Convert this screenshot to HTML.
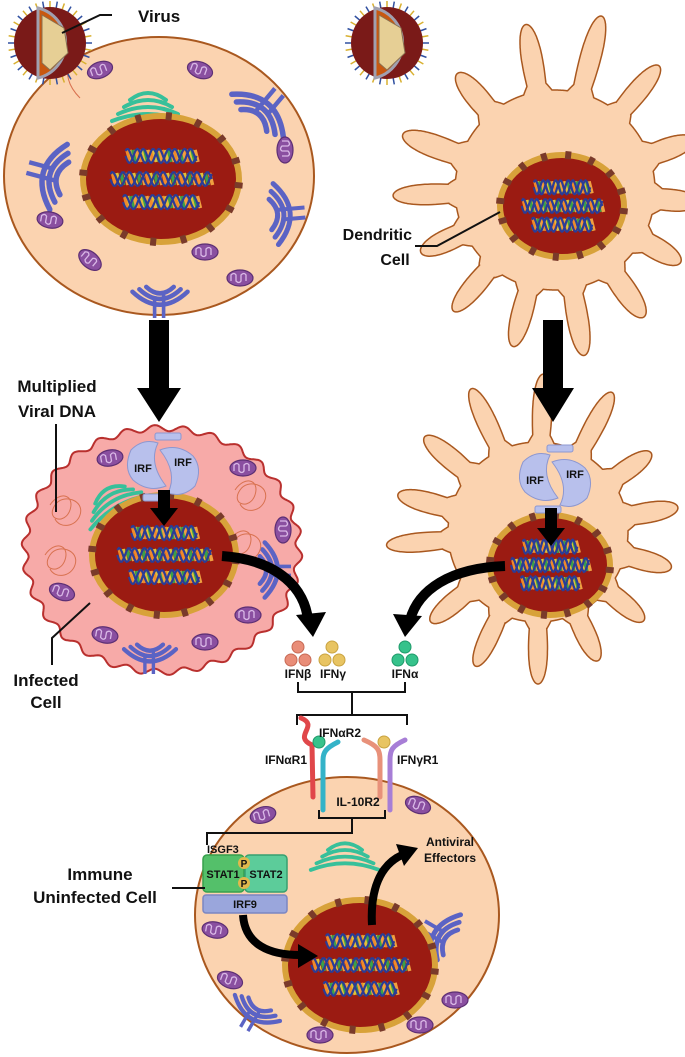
<!DOCTYPE html>
<html><head><meta charset="utf-8"><style>
html,body{margin:0;padding:0;background:#fff;}
svg{display:block;}
text{font-family:"Liberation Sans",sans-serif;font-weight:bold;fill:#111;}
</style></head><body>
<svg id="s" width="685" height="1057" viewBox="0 0 685 1057" xmlns="http://www.w3.org/2000/svg">
<ellipse cx="159" cy="176" rx="155" ry="139" fill="#fbd3b0" stroke="#a9581f" stroke-width="2"/>
<path id="inf" fill="#f7aaa8" stroke="#b9302e" stroke-width="2"/>
<g id="dyn"></g>
<g id="vir"></g>
<path d="M149,320 H169 V388 H181 L159,422 L137,388 H149 Z" fill="#000"/>
<path d="M543,320 H563 V388 H574 L553,422 L532,388 H543 Z" fill="#000"/>
<path d="M222,556 C280,560 305,590 308,620" fill="none" stroke="#000" stroke-width="10"/>
<path d="M296,615 L313,637 L326,612 Z" fill="#000"/>
<path d="M505,566 C450,568 418,590 410,620" fill="none" stroke="#000" stroke-width="10"/>
<path d="M393,614 L405,637 L422,616 Z" fill="#000"/>
<g stroke-width="1">
<circle cx="298" cy="647" r="6" fill="#e98d78" stroke="#c76a55"/><circle cx="291" cy="660" r="6" fill="#e98d78" stroke="#c76a55"/><circle cx="305" cy="660" r="6" fill="#e98d78" stroke="#c76a55"/>
<circle cx="332" cy="647" r="6" fill="#e8c462" stroke="#c9a340"/><circle cx="325" cy="660" r="6" fill="#e8c462" stroke="#c9a340"/><circle cx="339" cy="660" r="6" fill="#e8c462" stroke="#c9a340"/>
<circle cx="405" cy="647" r="6" fill="#36c28b" stroke="#1f9a6a"/><circle cx="398" cy="660" r="6" fill="#36c28b" stroke="#1f9a6a"/><circle cx="412" cy="660" r="6" fill="#36c28b" stroke="#1f9a6a"/>
</g>
<text x="298" y="678" font-size="12" text-anchor="middle">IFNβ</text>
<text x="333" y="678" font-size="12" text-anchor="middle">IFNγ</text>
<text x="405" y="678" font-size="12" text-anchor="middle">IFNα</text>
<path d="M298,682 V692 H405 V682 M352,692 V715 M297,725 V715 H407 V725" fill="none" stroke="#111" stroke-width="2"/>
<ellipse cx="347" cy="915" rx="152" ry="138" fill="#fbd3b0" stroke="#a9581f" stroke-width="2"/>
<path d="M301,718 C320,726 292,736 312,745 L313,797" fill="none" stroke="#e0474a" stroke-width="5" stroke-linecap="round"/>
<path d="M338,742 C326,748 323,752 323,760 L323,810" fill="none" stroke="#34b3c8" stroke-width="5" stroke-linecap="round"/>
<path d="M364,740 C378,746 380,750 380,760 L380,797" fill="none" stroke="#e8917a" stroke-width="5" stroke-linecap="round"/>
<path d="M405,740 C392,746 390,750 390,760 L390,810" fill="none" stroke="#a77ed6" stroke-width="5" stroke-linecap="round"/>
<circle cx="319" cy="742" r="6" fill="#36c28b" stroke="#1f9a6a"/>
<circle cx="384" cy="742" r="6" fill="#e8c462" stroke="#c9a340"/>
<text x="340" y="737" font-size="12" text-anchor="middle">IFNαR2</text>
<text x="307" y="764" font-size="12" text-anchor="end">IFNαR1</text>
<text x="397" y="764" font-size="12">IFNγR1</text>
<text x="358" y="806" font-size="12" text-anchor="middle">IL-10R2</text>
<path d="M319,810 V818 H385 V810 M352,818 V833 H207 V845" fill="none" stroke="#111" stroke-width="2"/>
<text x="207" y="853" font-size="11">ISGF3</text>
<rect x="203" y="855" width="41" height="37" rx="4" fill="#54c06a" stroke="#36a04c" stroke-width="1.5"/>
<rect x="245" y="855" width="42" height="37" rx="4" fill="#5ccc9a" stroke="#36a070" stroke-width="1.5"/>
<rect x="203" y="895" width="84" height="18" rx="3" fill="#9aa6dc" stroke="#7b86c2" stroke-width="1.5"/>
<circle cx="244" cy="863" r="6" fill="#e1b84c"/><circle cx="244" cy="883" r="6" fill="#e1b84c"/>
<text x="244" y="867" font-size="10" text-anchor="middle">P</text>
<text x="244" y="887" font-size="10" text-anchor="middle">P</text>
<text x="223" y="878" font-size="11" text-anchor="middle">STAT1</text>
<text x="266" y="878" font-size="11" text-anchor="middle">STAT2</text>
<text x="245" y="908" font-size="11" text-anchor="middle">IRF9</text>
<g id="dyn2"></g>
<text x="138" y="22" font-size="17">Virus</text>
<path d="M62,33 L100,15 H112" fill="none" stroke="#111" stroke-width="2"/>
<text x="412" y="240" font-size="16" text-anchor="end">Dendritic</text>
<text x="395" y="265" font-size="16" text-anchor="middle">Cell</text>
<path d="M415,246 H437 L500,212" fill="none" stroke="#111" stroke-width="2"/>
<text x="57" y="392" font-size="17" text-anchor="middle">Multiplied</text>
<text x="57" y="417" font-size="17" text-anchor="middle">Viral DNA</text>
<path d="M56,424 V512" stroke="#111" stroke-width="2"/>
<text x="46" y="686" font-size="17" text-anchor="middle">Infected</text>
<text x="46" y="708" font-size="17" text-anchor="middle">Cell</text>
<path d="M90,603 L52,638 V665" fill="none" stroke="#111" stroke-width="2"/>
<text x="100" y="880" font-size="17" text-anchor="middle">Immune</text>
<text x="95" y="903" font-size="17" text-anchor="middle">Uninfected Cell</text>
<path d="M172,888 H205" stroke="#111" stroke-width="2"/>
<text x="450" y="846" font-size="12" text-anchor="middle">Antiviral</text>
<text x="450" y="862" font-size="12" text-anchor="middle">Effectors</text>
</svg>
<script>
(function(){
var NS="http://www.w3.org/2000/svg";
function el(p,t,a){var e=document.createElementNS(NS,t);for(var k in a)e.setAttribute(k,a[k]);p.appendChild(e);return e;}
var dyn=document.getElementById("dyn"),dyn2=document.getElementById("dyn2"),vir=document.getElementById("vir");
var d="";for(var i=0;i<=720;i++){var t=i/720*2*Math.PI;var rr=1+0.025*Math.sin(t*30);var x=162+137*rr*Math.cos(t),y=550+122*rr*Math.sin(t);d+=(i?"L":"M")+x.toFixed(1)+","+y.toFixed(1);}
document.getElementById("inf").setAttribute("d",d+"Z");
function dend(g,cx,cy,r0,arms){var d="";for(var i=0;i<=2880;i++){var t=i/2880*2*Math.PI;var r=r0;arms.forEach(function(a){var dt=Math.atan2(Math.sin(t-a[0]),Math.cos(t-a[0]));var z=Math.abs(dt)/a[2];if(z<1.6){var base=z<1?Math.sqrt(1-z*z):0;var fil=Math.max(0,1-(z-0.6));r+=a[1]*base+12*Math.max(0,Math.min(1,1.6-z))*(z>=1?1:0)+(z<1?12:0)*0;}});var x=cx+r*Math.cos(t),y=cy+r*Math.sin(t);d+=(i?"L":"M")+x.toFixed(1)+","+y.toFixed(1);}el(g,"path",{d:d+"Z",fill:"#fbd3b0",stroke:"#a9581f","stroke-width":1.5,"stroke-linejoin":"round"});}
function deg(x){return x*Math.PI/180;}
var arms1=[[-160,62,.10],[-130,52,.10],[-100,68,.09],[-75,80,.085],[-50,62,.09],[-20,48,.10],[5,45,.10],[30,45,.10],[55,55,.10],[80,68,.09],[105,62,.09],[130,58,.09],[155,48,.10],[178,62,.09]].map(function(a){return [deg(a[0]),a[1],a[2]];});
dend(dyn,555,190,100,arms1);
var arms2=[[-165,55,.10],[-140,58,.10],[-115,68,.09],[-88,68,.09],[-62,68,.09],[-35,48,.10],[-10,52,.10],[15,48,.10],[40,48,.10],[65,52,.10],[90,62,.09],[115,58,.09],[140,50,.10],[175,62,.09]].map(function(a){return [deg(a[0]),a[1],a[2]];});
dend(dyn,538,532,90,arms2);
function mito(g,x,y,rot){var gg=el(g,"g",{transform:"translate("+x+","+y+") rotate("+rot+")"});el(gg,"ellipse",{cx:0,cy:0,rx:13,ry:8,fill:"#8a4fa0",stroke:"#5d2f74","stroke-width":1.2});el(gg,"path",{d:"M-9,3 V-3 Q-6,-6 -4,-3 V3 Q-1,6 1,3 V-3 Q4,-6 6,-3 V3",fill:"none",stroke:"#d9b8e6","stroke-width":1.3});}
function golgi(g,x,y,rot,s){var gg=el(g,"g",{transform:"translate("+x+","+y+") rotate("+rot+") scale("+(s||1)+")"});for(var i=0;i<4;i++){var w=18+i*6;el(gg,"path",{d:"M"+(-w)+","+(i*7)+" Q0,"+(i*7-14)+" "+w+","+(i*7),fill:"none",stroke:"#37c09a","stroke-width":4,"stroke-linecap":"round"});}}
function er(g,x,y,rot,s){var gg=el(g,"g",{transform:"translate("+x+","+y+") rotate("+rot+") scale("+(s||1)+")"});for(var i=0;i<3;i++){var r=18+i*9;el(gg,"path",{d:"M"+(-r*0.85)+","+(-r*0.3)+" Q0,"+(-r*1.1)+" "+(r*0.85)+","+(-r*0.3),fill:"none",stroke:"#5b63c4","stroke-width":5,"stroke-linecap":"round"});}el(gg,"path",{d:"M-4,-40 V-14 M6,-40 V-16",stroke:"#5b63c4","stroke-width":4});}
function nucleus(g,cx,cy,rx,ry){el(g,"ellipse",{cx:cx,cy:cy,rx:rx,ry:ry,fill:"#9b1b12",stroke:"#d8a23a","stroke-width":6});for(var i=0;i<16;i++){var t=i/16*2*Math.PI+.1;var x=cx+rx*Math.cos(t),y=cy+ry*Math.sin(t);el(g,"rect",{x:x-3,y:y-4,width:6,height:8,fill:"#7a3a2a",transform:"rotate("+(t*180/Math.PI+90)+" "+x+" "+y+")"});}
var rows=[[-22,.7],[0,1],[22,.75]];rows.forEach(function(r){var w=rx*1.3*r[1],y0=cy+r[0]*ry/60,x0=cx-w/2;var a="",b="";var n=r[1]>.9?6:4.5;for(var k=0;k<=60;k++){var x=x0+w*k/60,ph=k/60*Math.PI*2*n;a+=(k?"L":"M")+x.toFixed(1)+","+(y0+7*Math.sin(ph)).toFixed(1);b+=(k?"L":"M")+x.toFixed(1)+","+(y0-7*Math.sin(ph+0.8)).toFixed(1);}
var cols=["#f08a2a","#e0c03a","#3aa04a","#f0a040"];for(var k=0;k<24;k++){var x=x0+w*(k+.5)/24;el(g,"line",{x1:x,y1:y0-6,x2:x+3,y2:y0+6,stroke:cols[k%4],"stroke-width":3.5});}
el(g,"path",{d:a,fill:"none",stroke:"#2b3c96","stroke-width":2.2});el(g,"path",{d:b,fill:"none",stroke:"#2b3c96","stroke-width":2.2});});}
function irf(g,x,y){el(g,"path",{d:"M"+(x-32)+","+(y-18)+" Q"+(x-20)+","+(y-30)+" "+(x-5)+","+(y-25)+" Q"+(x-15)+","+(y-5)+" "+(x+3)+","+(y+18)+" Q"+(x-15)+","+(y+25)+" "+(x-30)+","+(y+12)+" Q"+(x-40)+","+y+" "+(x-32)+","+(y-18)+"Z",fill:"#b8c0ec",stroke:"#8d97d0"});
el(g,"path",{d:"M"+(x+32)+","+(y+18)+" Q"+(x+20)+","+(y+30)+" "+(x+5)+","+(y+25)+" Q"+(x+15)+","+(y+5)+" "+(x-3)+","+(y-18)+" Q"+(x+15)+","+(y-25)+" "+(x+30)+","+(y-12)+" Q"+(x+40)+","+y+" "+(x+32)+","+(y+18)+"Z",fill:"#b8c0ec",stroke:"#8d97d0"});
el(g,"rect",{x:x-8,y:y-35,width:26,height:7,rx:2,fill:"#b8c0ec",stroke:"#8d97d0"});el(g,"rect",{x:x-20,y:y+26,width:26,height:7,rx:2,fill:"#b8c0ec",stroke:"#8d97d0"});
var t1=el(g,"text",{x:x-20,y:y+4,"font-size":11,"text-anchor":"middle"});t1.textContent="IRF";var t2=el(g,"text",{x:x+20,y:y-2,"font-size":11,"text-anchor":"middle"});t2.textContent="IRF";}
function squig(g,x,y){el(g,"path",{d:"M"+x+","+y+" c10,-15 25,-10 20,5 c-5,15 -25,10 -15,-5 c8,-12 30,-5 25,10 c-4,12 -20,14 -25,4",fill:"none",stroke:"#d8714f","stroke-width":1});}
golgi(dyn,148,100,0,1);er(dyn,70,180,-75,1.1);er(dyn,250,125,40,1.1);er(dyn,265,215,85,1);er(dyn,160,282,180,.9);
mito(dyn,100,70,-20);mito(dyn,200,70,20);mito(dyn,285,150,90);mito(dyn,50,220,10);mito(dyn,90,260,40);mito(dyn,240,278,0);mito(dyn,205,252,0);
el(dyn,"path",{d:"M70,60 Q62,80 80,98",fill:"none",stroke:"#d8714f","stroke-width":1});
nucleus(dyn,161,179,78,63);
nucleus(dyn,562,206,62,51);
golgi(dyn,110,495,-30,0.95);er(dyn,255,570,90,.9);er(dyn,150,640,180,.85);
mito(dyn,110,458,-10);mito(dyn,243,468,0);mito(dyn,283,530,90);mito(dyn,62,592,20);mito(dyn,105,635,10);mito(dyn,248,615,0);mito(dyn,205,642,0);
squig(dyn,50,505);squig(dyn,45,555);squig(dyn,235,490);squig(dyn,230,540);
nucleus(dyn,164,555,72,60);irf(dyn,163,468);
el(dyn,"path",{d:"M158,490 H170 V508 H178 L164,526 L150,508 H158Z",fill:"#000"});
nucleus(dyn,550,565,60,50);irf(dyn,555,480);
el(dyn,"path",{d:"M545,508 H557 V528 H565 L551,546 L537,528 H545Z",fill:"#000"});
golgi(dyn2,345,850,0,.95);er(dyn2,455,945,-60,.95);er(dyn2,262,1000,210,.85);
mito(dyn2,263,815,-15);mito(dyn2,418,805,20);mito(dyn2,215,930,10);mito(dyn2,230,980,20);mito(dyn2,320,1035,0);mito(dyn2,420,1025,0);mito(dyn2,455,1000,0);
nucleus(dyn2,360,965,75,65);
el(dyn2,"path",{d:"M243,915 C245,945 270,955 300,955",fill:"none",stroke:"#000","stroke-width":8});
el(dyn2,"path",{d:"M298,944 L318,956 L298,968Z",fill:"#000"});
el(dyn2,"path",{d:"M372,925 C370,890 380,865 402,855",fill:"none",stroke:"#000","stroke-width":8});
el(dyn2,"path",{d:"M396,844 L418,848 L404,866Z",fill:"#000"});
function virus(g,cx,cy){for(var i=0;i<36;i++){var t=i/36*2*Math.PI;el(g,"line",{x1:cx+34*Math.cos(t),y1:cy+34*Math.sin(t),x2:cx+42*Math.cos(t),y2:cy+42*Math.sin(t),stroke:i%2?"#d8b030":"#3050a0","stroke-width":1.5});}el(g,"circle",{cx:cx,cy:cy,r:36,fill:"#7a1a18"});el(g,"path",{d:"M"+(cx-12)+","+(cy-35)+" A36,36 0 0 1 "+(cx-12)+","+(cy+35)+"Z",fill:"#c85810",stroke:"#a0a0b0","stroke-width":3});el(g,"path",{d:"M"+(cx-8)+","+(cy-28)+" L"+(cx+14)+","+(cy-15)+" L"+(cx+18)+","+(cy+10)+" L"+(cx)+","+(cy+27)+" L"+(cx-8)+","+(cy+20)+"Z",fill:"#e6cf95",stroke:"#8a7050"});}
virus(vir,50,43);virus(vir,387,43);
})();
</script>
</body></html>
